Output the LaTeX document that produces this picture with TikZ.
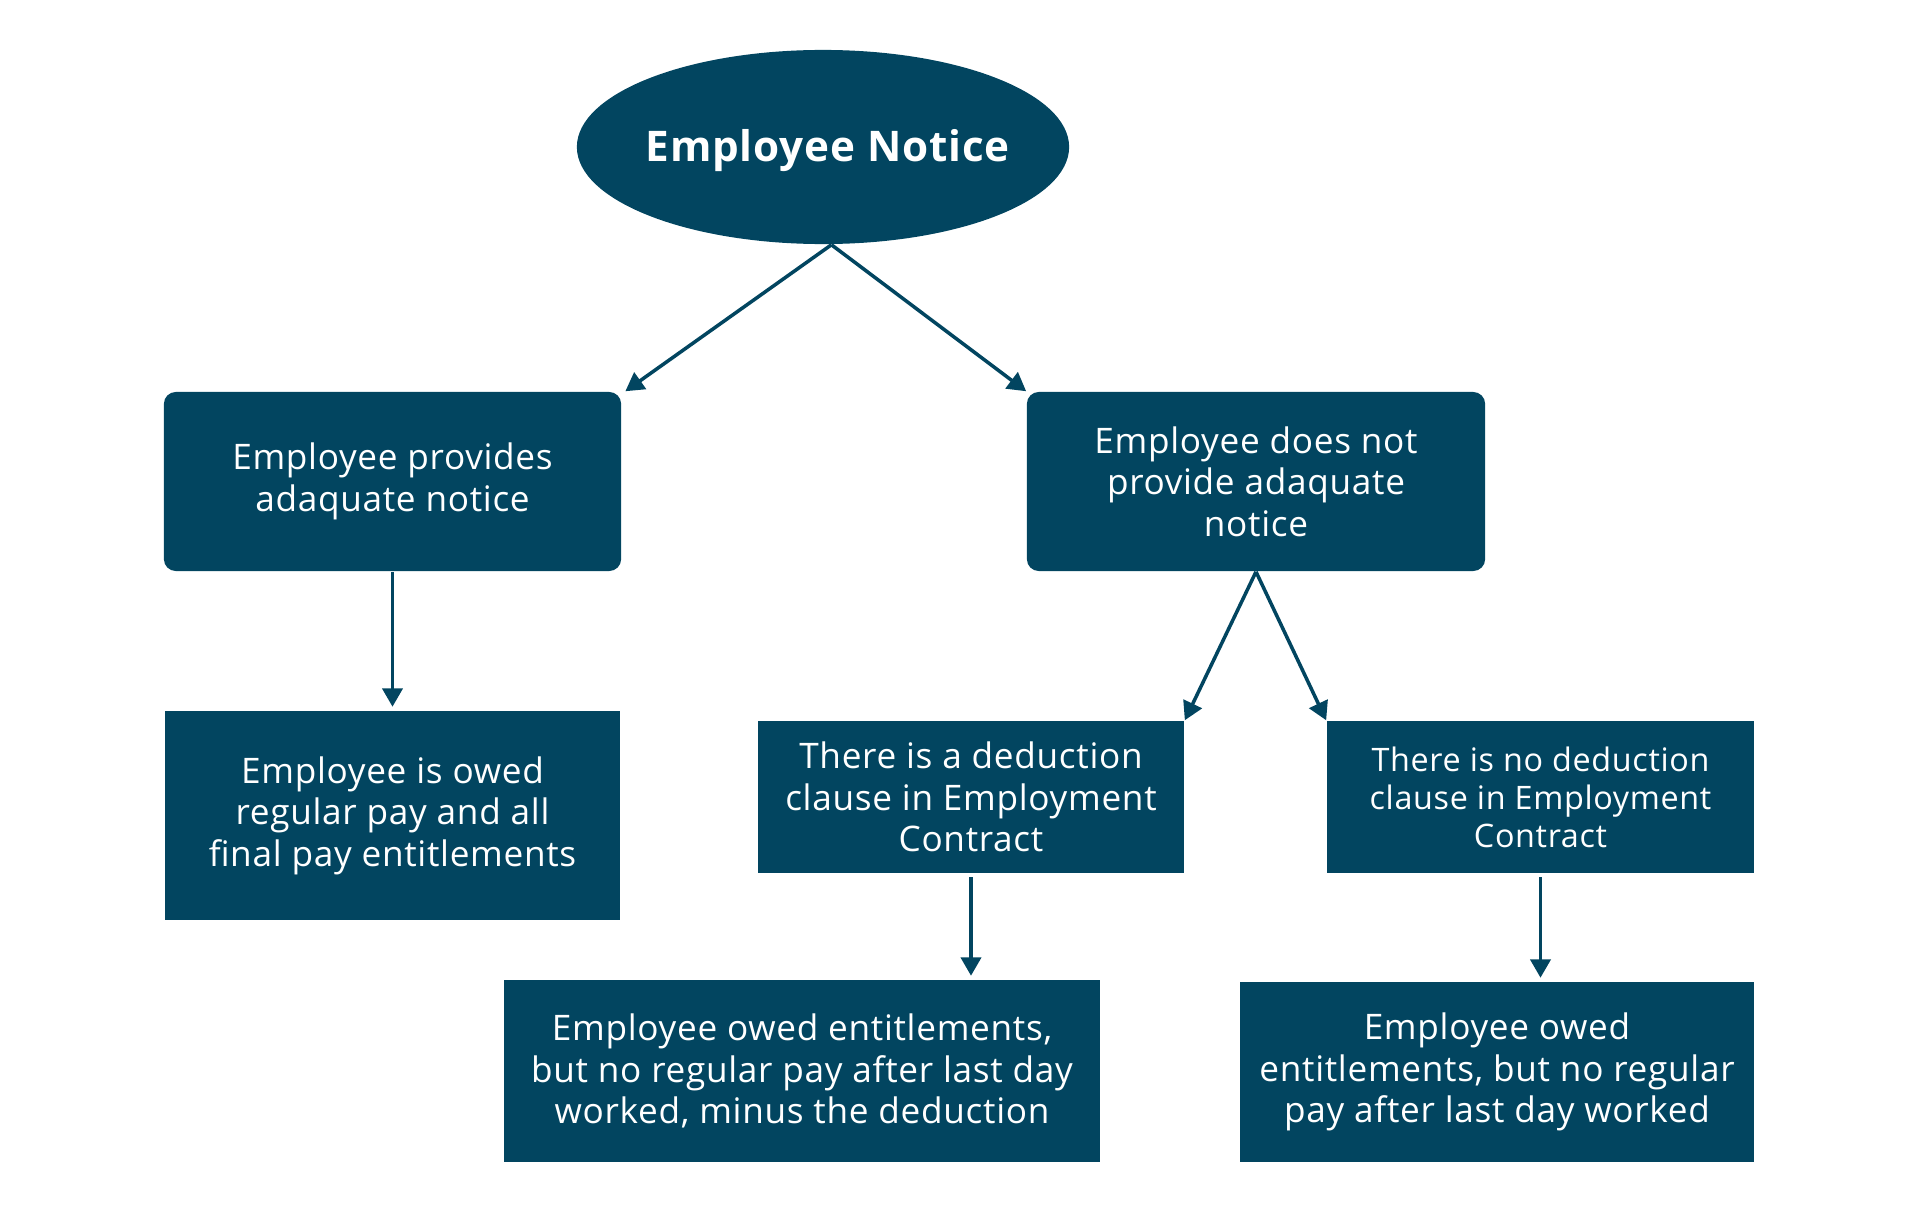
\documentclass[tikz,border=0pt]{standalone}
\usepackage{fontspec}
\setmainfont{Open Sans}[LetterSpace=2]
\usetikzlibrary{shapes.geometric,arrows.meta}
\definecolor{navy}{RGB}{2,69,96}
\begin{document}
\begin{tikzpicture}[x=0.01cm,y=-0.01cm,
  box/.style={rectangle,fill=navy,text=white,align=center,inner sep=0pt,font=\fontsize{10}{11.8}\selectfont},
  rbox/.style={box,rounded corners=3.4pt},
  smallbox/.style={box,font=\fontsize{9.2}{10.8}\selectfont},
  conn/.style={draw=navy,line width=1pt,-{Triangle[length=5.2pt,width=5.7pt]}}]
\useasboundingbox (0,0) rectangle (1920,1215);
\node[ellipse,fill=navy,text=white,inner sep=0pt,minimum width=4.92cm,minimum height=1.94cm,font=\fontsize{12}{14}\selectfont\bfseries] (e) at (823,147) {\raisebox{-4.2pt}[0pt][0pt]{\makebox[0pt]{\hspace*{2.6pt}Employee Notice}}};
\node[rbox,minimum width=4.57cm,minimum height=1.79cm] (b1) at (392.5,481.5) {Employee provides\\adaquate notice};
\node[rbox,minimum width=4.58cm,minimum height=1.79cm] (b2) at (1256,481.5) {Employee does not\\provide adaquate\\notice};
\node[box,minimum width=4.55cm,minimum height=2.09cm] (b3) at (392.5,815.5) {Employee is owed\\regular pay and all\\final pay entitlements};
\node[box,minimum width=4.26cm,minimum height=1.52cm] (b4) at (971,797) {There is a deduction\\clause in Employment\\Contract};
\node[smallbox,minimum width=4.27cm,minimum height=1.52cm] (b5) at (1540.5,797) {There is no deduction\\clause in Employment\\Contract};
\node[box,minimum width=5.96cm,minimum height=1.82cm] (b6) at (802,1071) {Employee owed entitlements,\\but no regular pay after last day\\worked, minus the deduction};
\node[box,minimum width=5.14cm,minimum height=1.80cm] (b7) at (1497,1072) {Employee owed\\entitlements, but no regular\\pay after last day worked};
\draw[conn] ([xshift=2.4pt]e.south) -- ([xshift=1pt]b1.north east);
\draw[conn] ([xshift=2.4pt]e.south) -- (b2.north west);
\draw[conn] (b1.south) -- ([yshift=1pt]b3.north);
\draw[conn] (b2.south) -- (b4.north east);
\draw[conn] (b2.south) -- (b5.north west);
\draw[conn] ([yshift=-1pt]b4.south) -- ([yshift=1pt]b4.south |- b6.north);
\draw[conn] ([yshift=-1pt]b5.south) -- ([yshift=1pt]b5.south |- b7.north);
\end{tikzpicture}
\end{document}
